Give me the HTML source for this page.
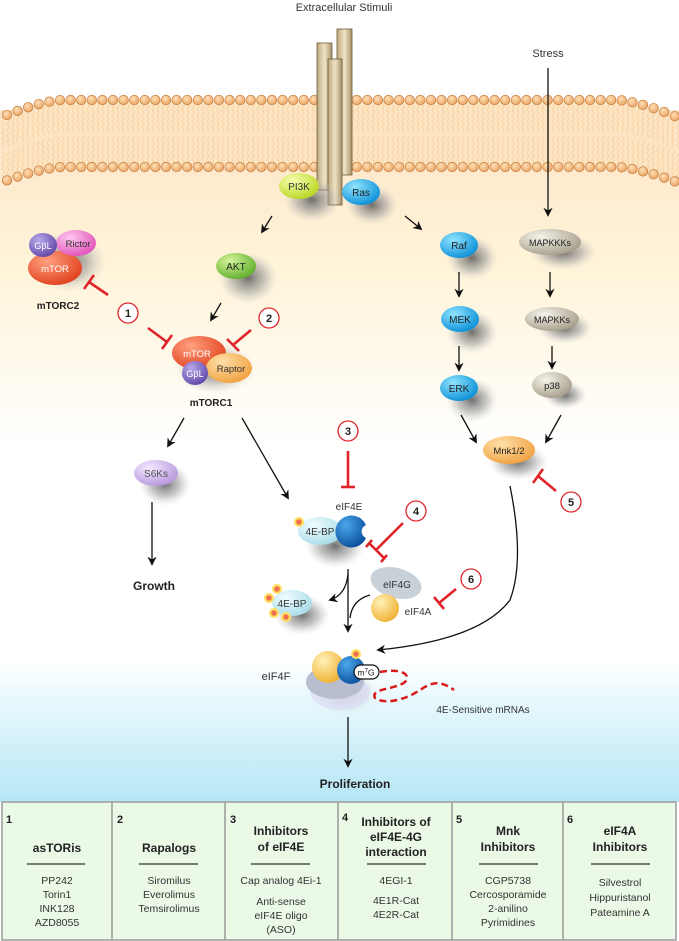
<!DOCTYPE html>
<html><head><meta charset="utf-8">
<style>
html,body{margin:0;padding:0;background:#fff}
svg{display:block}
text{font-family:"Liberation Sans",sans-serif}
</style></head>
<body>
<svg id="s" width="679" height="941" viewBox="0 0 679 941" xmlns="http://www.w3.org/2000/svg">
<defs>
<linearGradient id="bg" x1="0" y1="0" x2="0" y2="1">
<stop offset="0" stop-color="#fde3c8"/>
<stop offset="0.45" stop-color="#fff4d8"/>
<stop offset="1" stop-color="#ffffff"/>
</linearGradient>
<linearGradient id="blue" x1="0" y1="0" x2="0" y2="1">
<stop offset="0" stop-color="#ffffff"/>
<stop offset="0.3" stop-color="#e6f8fc"/>
<stop offset="1" stop-color="#b5e6f5"/>
</linearGradient>
<linearGradient id="bar" x1="0" y1="0" x2="1" y2="0">
<stop offset="0" stop-color="#bca77c"/>
<stop offset="0.5" stop-color="#efe3c6"/>
<stop offset="1" stop-color="#a8916a"/>
</linearGradient>
<radialGradient id="head" cx="0.4" cy="0.35" r="0.7">
<stop offset="0" stop-color="#ffe0b5"/><stop offset="1" stop-color="#e9a060"/>
</radialGradient>
<radialGradient id="sh" cx="0.5" cy="0.5" r="0.5">
<stop offset="0" stop-color="#555" stop-opacity="0.85"/>
<stop offset="0.55" stop-color="#999" stop-opacity="0.55"/>
<stop offset="1" stop-color="#ccc" stop-opacity="0"/>
</radialGradient>
<radialGradient id="gBlue" cx="0.35" cy="0.3" r="0.75"><stop offset="0" stop-color="#8fe4ff"/><stop offset="1" stop-color="#0a8fd6"/></radialGradient>
<radialGradient id="gDBlue" cx="0.35" cy="0.3" r="0.75"><stop offset="0" stop-color="#4aa8e8"/><stop offset="1" stop-color="#0a4f9e"/></radialGradient>
<radialGradient id="gYG" cx="0.35" cy="0.3" r="0.75"><stop offset="0" stop-color="#f6ffb0"/><stop offset="1" stop-color="#b8d620"/></radialGradient>
<radialGradient id="gGreen" cx="0.35" cy="0.3" r="0.75"><stop offset="0" stop-color="#d4f59a"/><stop offset="1" stop-color="#5fae2a"/></radialGradient>
<radialGradient id="gRed" cx="0.35" cy="0.3" r="0.75"><stop offset="0" stop-color="#ffa080"/><stop offset="1" stop-color="#e0401c"/></radialGradient>
<radialGradient id="gPink" cx="0.35" cy="0.3" r="0.75"><stop offset="0" stop-color="#ffc8ef"/><stop offset="1" stop-color="#e050b8"/></radialGradient>
<radialGradient id="gPurp" cx="0.35" cy="0.3" r="0.75"><stop offset="0" stop-color="#b8a8ea"/><stop offset="1" stop-color="#6048a8"/></radialGradient>
<radialGradient id="gOr" cx="0.35" cy="0.3" r="0.75"><stop offset="0" stop-color="#ffe0a8"/><stop offset="1" stop-color="#f0a040"/></radialGradient>
<radialGradient id="gYel" cx="0.35" cy="0.3" r="0.75"><stop offset="0" stop-color="#fff2b8"/><stop offset="1" stop-color="#f0b030"/></radialGradient>
<radialGradient id="gBeige" cx="0.35" cy="0.3" r="0.75"><stop offset="0" stop-color="#f6f3ea"/><stop offset="1" stop-color="#a59d8a"/></radialGradient>
<radialGradient id="gLav" cx="0.35" cy="0.3" r="0.75"><stop offset="0" stop-color="#f3e8ff"/><stop offset="1" stop-color="#b596dc"/></radialGradient>
<radialGradient id="gCyan" cx="0.35" cy="0.3" r="0.75"><stop offset="0" stop-color="#f0fcff"/><stop offset="1" stop-color="#a8dde8"/></radialGradient>
<marker id="ah" viewBox="0 0 10 10" refX="8" refY="5" markerWidth="7" markerHeight="7" orient="auto-start-reverse"><path d="M0,0 L10,5 L0,10 L3,5 z" fill="#111"/></marker>
</defs>

<rect x="0" y="110" width="679" height="340" fill="url(#bg)"/>
<rect x="0" y="660" width="679" height="142" fill="url(#blue)"/>
<g id="mem"></g>

<rect x="317" y="43" width="15" height="147" fill="url(#bar)" stroke="#6b5a3a" stroke-width="0.8"/>
<rect x="337" y="29" width="15" height="146" fill="url(#bar)" stroke="#6b5a3a" stroke-width="0.8"/>
<rect x="328" y="59" width="14" height="146" fill="url(#bar)" stroke="#6b5a3a" stroke-width="0.8"/>

<text x="344" y="11" font-size="11" text-anchor="middle" fill="#333">Extracellular Stimuli</text>
<text x="548" y="57" font-size="11" text-anchor="middle" fill="#333">Stress</text>
<line x1="548" y1="68" x2="548" y2="215" stroke="#111" stroke-width="1.3" marker-end="url(#ah)"/>

<g fill="url(#sh)">
<ellipse cx="312" cy="200" rx="28" ry="22"/>
<ellipse cx="372" cy="205" rx="26" ry="20"/>
<ellipse cx="68" cy="262" rx="38" ry="30"/>
<ellipse cx="248" cy="278" rx="30" ry="26"/>
<ellipse cx="472" cy="258" rx="26" ry="22"/>
<ellipse cx="563" cy="252" rx="34" ry="18"/>
<ellipse cx="472" cy="332" rx="26" ry="22"/>
<ellipse cx="565" cy="328" rx="28" ry="16"/>
<ellipse cx="472" cy="400" rx="26" ry="22"/>
<ellipse cx="565" cy="395" rx="22" ry="14"/>
<ellipse cx="215" cy="368" rx="40" ry="26"/>
<ellipse cx="518" cy="462" rx="30" ry="18"/>
<ellipse cx="165" cy="484" rx="26" ry="22"/>
<ellipse cx="335" cy="546" rx="30" ry="22"/>
<ellipse cx="302" cy="615" rx="28" ry="20"/>
<ellipse cx="345" cy="692" rx="32" ry="22" opacity="0.5"/>
</g>

<ellipse cx="299" cy="186" rx="20" ry="13" fill="url(#gYG)"/>
<text x="299" y="190" font-size="10" text-anchor="middle" fill="#333">PI3K</text>
<ellipse cx="361" cy="192" rx="19" ry="13" fill="url(#gBlue)"/>
<text x="361" y="196" font-size="10" text-anchor="middle" fill="#222">Ras</text>

<line x1="272" y1="216" x2="262" y2="232" stroke="#111" stroke-width="1.3" marker-end="url(#ah)"/>
<line x1="405" y1="216" x2="421" y2="229" stroke="#111" stroke-width="1.3" marker-end="url(#ah)"/>

<ellipse cx="55" cy="268" rx="27" ry="17" fill="url(#gRed)"/>
<ellipse cx="76" cy="243" rx="20" ry="13" fill="url(#gPink)"/>
<ellipse cx="43" cy="245" rx="14" ry="12" fill="url(#gPurp)"/>
<text x="43" y="249" font-size="9" text-anchor="middle" fill="#fff">GβL</text>
<text x="78" y="247" font-size="9.5" text-anchor="middle" fill="#333">Rictor</text>
<text x="55" y="272" font-size="9.5" text-anchor="middle" fill="#fff">mTOR</text>
<text x="58" y="309" font-size="10" font-weight="bold" text-anchor="middle" fill="#222">mTORC2</text>

<ellipse cx="236" cy="266" rx="20" ry="13" fill="url(#gGreen)"/>
<text x="236" y="270" font-size="10" text-anchor="middle" fill="#222">AKT</text>

<ellipse cx="459" cy="245" rx="19" ry="13" fill="url(#gBlue)"/>
<text x="459" y="249" font-size="10" text-anchor="middle" fill="#222">Raf</text>
<ellipse cx="550" cy="242" rx="31" ry="13" fill="url(#gBeige)"/>
<text x="550" y="246" font-size="9" text-anchor="middle" fill="#222">MAPKKKs</text>
<line x1="459" y1="272" x2="459" y2="296" stroke="#111" stroke-width="1.3" marker-end="url(#ah)"/>
<line x1="550" y1="272" x2="550" y2="296" stroke="#111" stroke-width="1.3" marker-end="url(#ah)"/>
<ellipse cx="460" cy="319" rx="19" ry="13" fill="url(#gBlue)"/>
<text x="460" y="323" font-size="10" text-anchor="middle" fill="#222">MEK</text>
<ellipse cx="552" cy="319" rx="27" ry="12" fill="url(#gBeige)"/>
<text x="552" y="323" font-size="9" text-anchor="middle" fill="#222">MAPKKs</text>
<line x1="459" y1="346" x2="459" y2="370" stroke="#111" stroke-width="1.3" marker-end="url(#ah)"/>
<line x1="552" y1="346" x2="552" y2="368" stroke="#111" stroke-width="1.3" marker-end="url(#ah)"/>
<ellipse cx="459" cy="388" rx="19" ry="13" fill="url(#gBlue)"/>
<text x="459" y="392" font-size="10" text-anchor="middle" fill="#222">ERK</text>
<ellipse cx="552" cy="385" rx="20" ry="13" fill="url(#gBeige)"/>
<text x="552" y="389" font-size="9.5" text-anchor="middle" fill="#222">p38</text>

<g stroke="#e0242a" stroke-width="2.6" fill="none">
<line x1="108" y1="295" x2="89" y2="282"/><line x1="84" y1="289" x2="94" y2="275"/>
<line x1="148" y1="328" x2="167" y2="342"/><line x1="162" y1="349" x2="172" y2="335"/>
<line x1="251" y1="330" x2="233" y2="345"/><line x1="227" y1="339" x2="239" y2="351"/>
<line x1="348" y1="451" x2="348" y2="487"/><line x1="341" y1="487" x2="355" y2="487"/>
<line x1="556" y1="491" x2="538" y2="476"/><line x1="533" y1="483" x2="543" y2="469"/>
<line x1="403" y1="523" x2="376" y2="550"/><line x1="369" y1="543" x2="384" y2="558"/>
<line x1="366" y1="547" x2="372" y2="540"/><line x1="381" y1="562" x2="387" y2="555"/>
<line x1="456" y1="589" x2="439" y2="603"/><line x1="434" y1="597" x2="444" y2="609"/>
</g>
<g fill="#fff" stroke="#e0242a" stroke-width="1.3">
<circle cx="128" cy="313" r="10"/><circle cx="269" cy="318" r="10"/>
<circle cx="348" cy="431" r="10"/><circle cx="416" cy="511" r="10"/>
<circle cx="571" cy="502" r="10"/><circle cx="471" cy="579" r="10"/>
</g>
<g font-size="11" font-weight="bold" text-anchor="middle" fill="#222">
<text x="128" y="317">1</text><text x="269" y="322">2</text><text x="348" y="435">3</text>
<text x="416" y="515">4</text><text x="571" y="506">5</text><text x="471" y="583">6</text>
</g>

<line x1="221" y1="303" x2="211" y2="320" stroke="#111" stroke-width="1.3" marker-end="url(#ah)"/>

<ellipse cx="199" cy="353" rx="27" ry="17" fill="url(#gRed)"/>
<ellipse cx="229" cy="368" rx="23" ry="15" fill="url(#gOr)"/>
<ellipse cx="195" cy="373" rx="13" ry="12" fill="url(#gPurp)"/>
<text x="197" y="357" font-size="9.5" text-anchor="middle" fill="#fff">mTOR</text>
<text x="231" y="372" font-size="9.5" text-anchor="middle" fill="#333">Raptor</text>
<text x="195" y="377" font-size="9" text-anchor="middle" fill="#fff">GβL</text>
<text x="211" y="406" font-size="10" font-weight="bold" text-anchor="middle" fill="#222">mTORC1</text>

<g stroke="#111" stroke-width="1.3" fill="none">
<line x1="184" y1="418" x2="168" y2="446" marker-end="url(#ah)"/>
<line x1="242" y1="418" x2="288" y2="498" marker-end="url(#ah)"/>
<line x1="461" y1="415" x2="476" y2="442" marker-end="url(#ah)"/>
<line x1="561" y1="415" x2="546" y2="442" marker-end="url(#ah)"/>
<line x1="152" y1="502" x2="152" y2="564" marker-end="url(#ah)"/>
<line x1="348" y1="569" x2="348" y2="631" marker-end="url(#ah)"/>
<path d="M348,574 Q346,595 330,600" marker-end="url(#ah)"/>
<path d="M370,595 Q352,600 350,618"/>
<path d="M510,486 Q525,560 510,600 Q480,640 378,650" marker-end="url(#ah)"/>
<line x1="348" y1="717" x2="348" y2="766" marker-end="url(#ah)"/>
</g>

<ellipse cx="509" cy="450" rx="26" ry="14" fill="url(#gOr)"/>
<text x="509" y="454" font-size="9.5" text-anchor="middle" fill="#222">Mnk1/2</text>

<ellipse cx="156" cy="473" rx="22" ry="13" fill="url(#gLav)"/>
<text x="156" y="477" font-size="10" text-anchor="middle" fill="#555">S6Ks</text>
<text x="154" y="590" font-size="12" font-weight="bold" text-anchor="middle" fill="#222">Growth</text>

<text x="349" y="510" font-size="10" text-anchor="middle" fill="#333">eIF4E</text>
<ellipse cx="320" cy="531" rx="22" ry="14" fill="url(#gCyan)"/>
<circle cx="299" cy="522" r="5" fill="#ffe060"/><circle cx="299" cy="522" r="2.8" fill="#f07050"/>
<text x="320" y="535" font-size="10" text-anchor="middle" fill="#333">4E-BP</text>
<path d="M366,525 A16,16 0 1 0 366,538 A7,7 0 0 1 366,525 z" fill="url(#gDBlue)"/>

<ellipse cx="396" cy="583" rx="26" ry="15" fill="#c8d0d8" transform="rotate(15 396 583)"/>
<text x="397" y="588" font-size="10" text-anchor="middle" fill="#333">eIF4G</text>
<circle cx="385" cy="608" r="14" fill="url(#gYel)"/>
<text x="418" y="615" font-size="10" text-anchor="middle" fill="#333">eIF4A</text>

<ellipse cx="292" cy="603" rx="20" ry="13" fill="url(#gCyan)"/>
<text x="292" y="607" font-size="10" text-anchor="middle" fill="#333">4E-BP</text>
<g>
<circle cx="277" cy="589" r="5" fill="#ffe060"/><circle cx="277" cy="589" r="2.8" fill="#f07050"/>
<circle cx="269" cy="598" r="5" fill="#ffe060"/><circle cx="269" cy="598" r="2.8" fill="#f07050"/>
<circle cx="274" cy="613" r="5" fill="#ffe060"/><circle cx="274" cy="613" r="2.8" fill="#f07050"/>
<circle cx="286" cy="617" r="5" fill="#ffe060"/><circle cx="286" cy="617" r="2.8" fill="#f07050"/>
</g>

<text x="276" y="680" font-size="11" text-anchor="middle" fill="#333">eIF4F</text>
<ellipse cx="340" cy="692" rx="30" ry="18" fill="#dcdcf4" opacity="0.7"/>
<ellipse cx="335" cy="682" rx="29" ry="17" fill="#b8bed0"/>
<circle cx="328" cy="667" r="16" fill="url(#gYel)"/>
<circle cx="351" cy="670" r="14" fill="url(#gDBlue)"/>
<circle cx="356" cy="654" r="5" fill="#ffe060"/><circle cx="356" cy="654" r="2.8" fill="#f07050"/>
<path d="M380,672 C400,668 412,674 405,682 C395,690 370,688 375,698 C385,705 405,700 420,690 C432,682 440,680 454,690" fill="none" stroke="#d81c1c" stroke-width="2.5" stroke-dasharray="7,4"/>
<rect x="354" y="665" width="25" height="14" rx="7" fill="#fff" stroke="#111" stroke-width="1.2"/>
<text x="366" y="675.5" font-size="8.5" text-anchor="middle" fill="#111">m<tspan font-size="6" dy="-3">7</tspan><tspan dy="3">G</tspan></text>
<text x="483" y="713" font-size="10" text-anchor="middle" fill="#333">4E-Sensitive mRNAs</text>

<text x="355" y="788" font-size="12" font-weight="bold" text-anchor="middle" fill="#222">Proliferation</text>

<rect x="2" y="802" width="674" height="138" fill="#ebf9e7" stroke="#9a9a9a" stroke-width="1.5"/>
<g stroke="#9a9a9a" stroke-width="1.5">
<line x1="112" y1="802" x2="112" y2="940"/><line x1="225" y1="802" x2="225" y2="940"/>
<line x1="338" y1="802" x2="338" y2="940"/><line x1="452" y1="802" x2="452" y2="940"/>
<line x1="563" y1="802" x2="563" y2="940"/>
</g>
<g font-size="11" font-weight="bold" fill="#222">
<text x="6" y="823">1</text><text x="117" y="823">2</text><text x="230" y="823">3</text>
<text x="342" y="821">4</text><text x="456" y="823">5</text><text x="567" y="823">6</text>
</g>
<g font-size="12" font-weight="bold" fill="#222" text-anchor="middle">
<text x="57" y="852">asTORis</text>
<text x="169" y="852">Rapalogs</text>
<text x="281" y="835">Inhibitors</text><text x="281" y="851">of eIF4E</text>
<text x="396" y="826">Inhibitors of</text><text x="396" y="841">eIF4E-4G</text><text x="396" y="856">interaction</text>
<text x="508" y="835">Mnk</text><text x="508" y="851">Inhibitors</text>
<text x="620" y="835">eIF4A</text><text x="620" y="851">Inhibitors</text>
</g>
<g stroke="#333" stroke-width="1.2">
<line x1="27" y1="864" x2="85" y2="864"/><line x1="139" y1="864" x2="198" y2="864"/>
<line x1="251" y1="864" x2="310" y2="864"/><line x1="367" y1="864" x2="426" y2="864"/>
<line x1="479" y1="864" x2="538" y2="864"/><line x1="591" y1="864" x2="650" y2="864"/>
</g>
<g font-size="10.5" fill="#333" text-anchor="middle">
<text x="57" y="884">PP242</text><text x="57" y="898">Torin1</text><text x="57" y="912">INK128</text><text x="57" y="926">AZD8055</text>
<text x="169" y="884">Siromilus</text><text x="169" y="898">Everolimus</text><text x="169" y="912">Temsirolimus</text>
<text x="281" y="884">Cap analog 4Ei-1</text><text x="281" y="905">Anti-sense</text><text x="281" y="919">eIF4E oligo</text><text x="281" y="933">(ASO)</text>
<text x="396" y="884">4EGI-1</text><text x="396" y="904">4E1R-Cat</text><text x="396" y="918">4E2R-Cat</text>
<text x="508" y="884">CGP5738</text><text x="508" y="898">Cercosporamide</text><text x="508" y="912">2-anilino</text><text x="508" y="926">Pyrimidines</text>
<text x="620" y="886">Silvestrol</text><text x="620" y="901">Hippuristanol</text><text x="620" y="916">Pateamine A</text>
</g>
</svg>
<script>
(function(){
var ns="http://www.w3.org/2000/svg",g=document.getElementById("mem");
function off(x){var d=Math.min(x,679-x);return d<62?Math.pow((62-d)/62,1.5):0;}
function ty(x){return 100+18*off(x);} function by(x){return 167+16*off(x);}
var d="M0,"+ty(0);
for(var x=0;x<=679;x+=5)d+=" L"+x+","+ty(x);
for(var x=679;x>=0;x-=5)d+=" L"+x+","+by(x);
d+=" Z";
var p=document.createElementNS(ns,"path");p.setAttribute("d",d);p.setAttribute("fill","#fde4c2");g.appendChild(p);
for(var x=3;x<679;x+=5){
 var y1=ty(x)+5,y2=by(x)-5,ym=(ty(x)+by(x))/2;
 [[y1,ym-3],[ym+3,y2]].forEach(function(r){
  var s="M"+x+","+r[0];
  for(var y=r[0];y<r[1];y+=3){s+=" q"+(((y-r[0])/3)%2?-2:2)+",1.5 0,3";}
  var w=document.createElementNS(ns,"path");w.setAttribute("d",s);w.setAttribute("stroke","#f3c890");w.setAttribute("stroke-width","0.6");w.setAttribute("fill","none");g.appendChild(w);
 });
}
for(var x=7;x<679;x+=10.6){
 [ty(x),by(x)].forEach(function(y){var c=document.createElementNS(ns,"circle");c.setAttribute("cx",x);c.setAttribute("cy",y);c.setAttribute("r",4.8);c.setAttribute("fill","url(#head)");c.setAttribute("stroke","#c07838");c.setAttribute("stroke-width","0.6");g.appendChild(c);});
}
})();
</script>
</body></html>
